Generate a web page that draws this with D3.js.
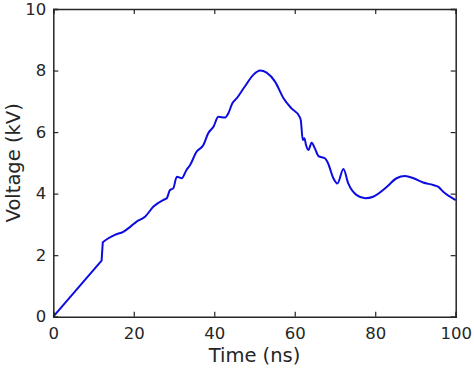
<script src="https://d3js.org/d3.v7.min.js"></script>
<style>
body { margin: 0; background: #fff; }
text { font-family: "DejaVu Sans", sans-serif; fill: #262626; }
</style>
<body></body>
<script>
// time (ns) and voltage (kV)
var timeNs = [0, 12.0, 12.3, 13.7, 15.3, 17.4, 19.1, 20.7, 22.8, 24.9, 27.3, 28.2, 29.0, 29.8, 30.7, 31.9, 33.1, 34.0, 35.6, 37.3, 38.5, 39.8, 41.0, 42.7, 43.5, 44.5, 45.6, 47.6, 49.7, 51.4, 53.0, 55.1, 57.2, 59.2, 61.1, 61.5, 62.0, 62.4, 62.8, 63.4, 64.2, 65.0, 65.9, 67.5, 68.3, 69.6, 70.6, 72.1, 73.3, 75.4, 77.5, 79.5, 82.9, 85.3, 87.4, 89.5, 91.9, 94.4, 95.7, 96.9, 98.6, 100];
var voltageKv = [0, 1.82, 2.42, 2.55, 2.66, 2.76, 2.92, 3.09, 3.25, 3.58, 3.79, 3.85, 4.12, 4.17, 4.55, 4.50, 4.77, 4.93, 5.36, 5.58, 5.96, 6.17, 6.50, 6.47, 6.61, 6.94, 7.10, 7.48, 7.86, 8.0, 7.93, 7.64, 7.10, 6.77, 6.52, 6.39, 5.74, 5.80, 5.58, 5.42, 5.65, 5.47, 5.22, 5.15, 4.98, 4.50, 4.33, 4.80, 4.33, 3.95, 3.85, 3.90, 4.22, 4.50, 4.57, 4.50, 4.36, 4.28, 4.22, 4.06, 3.90, 3.79];
var xTicks = [0, 20, 40, 60, 80, 100];
var yTicks = [0, 2, 4, 6, 8, 10];

var data = timeNs.map(function(t, i) { return [t, voltageKv[i]]; });
// linear ramp + step, then the smooth part
var ramp = data.slice(0, 3);
var rest = data.slice(2);

const W = 474, H = 369;
const pLeft = 53.3, pRight = 455.7, pTop = 9, pBottom = 316.7;

const svg = d3.select("body").append("svg")
  .attr("width", W).attr("height", H);

var x = d3.scaleLinear().domain([0, 100]).range([pLeft, pRight]);
var y = d3.scaleLinear().domain([0, 10]).range([pBottom, pTop]);

var straight = d3.line()
  .x(function(d) { return x(d[0]); })
  .y(function(d) { return y(d[1]); });
var smooth = d3.line()
  .x(function(d) { return x(d[0]); })
  .y(function(d) { return y(d[1]); })
  .curve(d3.curveMonotoneX);

svg.append("path")
  .attr("fill", "none")
  .attr("stroke", "#0c0ce0")
  .attr("stroke-width", 2)
  .attr("stroke-linejoin", "round")
  .attr("d", straight(ramp) + smooth(rest).replace(/^M/, "L"));

// axes, ticks pointing inward, mirrored on the box
var tl = 5;
var bAx = svg.append("g").attr("transform", "translate(0," + pBottom + ")")
  .call(d3.axisBottom(x).tickValues(xTicks).tickSize(-tl).tickPadding(11));
var tAx = svg.append("g").attr("transform", "translate(0," + pTop + ")")
  .call(d3.axisTop(x).tickValues(xTicks).tickSize(-tl).tickFormat(""));
var lAx = svg.append("g").attr("transform", "translate(" + pLeft + ",0)")
  .call(d3.axisLeft(y).tickValues(yTicks).tickSize(-tl).tickPadding(7));
var rAx = svg.append("g").attr("transform", "translate(" + pRight + ",0)")
  .call(d3.axisRight(y).tickValues(yTicks).tickSize(-tl).tickFormat(""));

[bAx, tAx, lAx, rAx].forEach(function(g) {
  g.select(".domain").attr("stroke", "#262626").attr("stroke-width", 1.5);
  g.selectAll(".tick line").attr("stroke", "#262626").attr("stroke-width", 1.2);
  g.selectAll(".tick text").style("font-size", "16.5px").style("font-family", "DejaVu Sans, sans-serif").attr("fill", "#262626");
});

svg.append("text")
  .attr("x", (pLeft + pRight) / 2).attr("y", 362)
  .attr("text-anchor", "middle")
  .style("font-size", "19.5px")
  .text("Time (ns)");

svg.append("text")
  .attr("transform", "translate(20," + ((pTop + pBottom) / 2) + ") rotate(-90)")
  .attr("text-anchor", "middle")
  .style("font-size", "19.5px")
  .text("Voltage (kV)");
</script>
